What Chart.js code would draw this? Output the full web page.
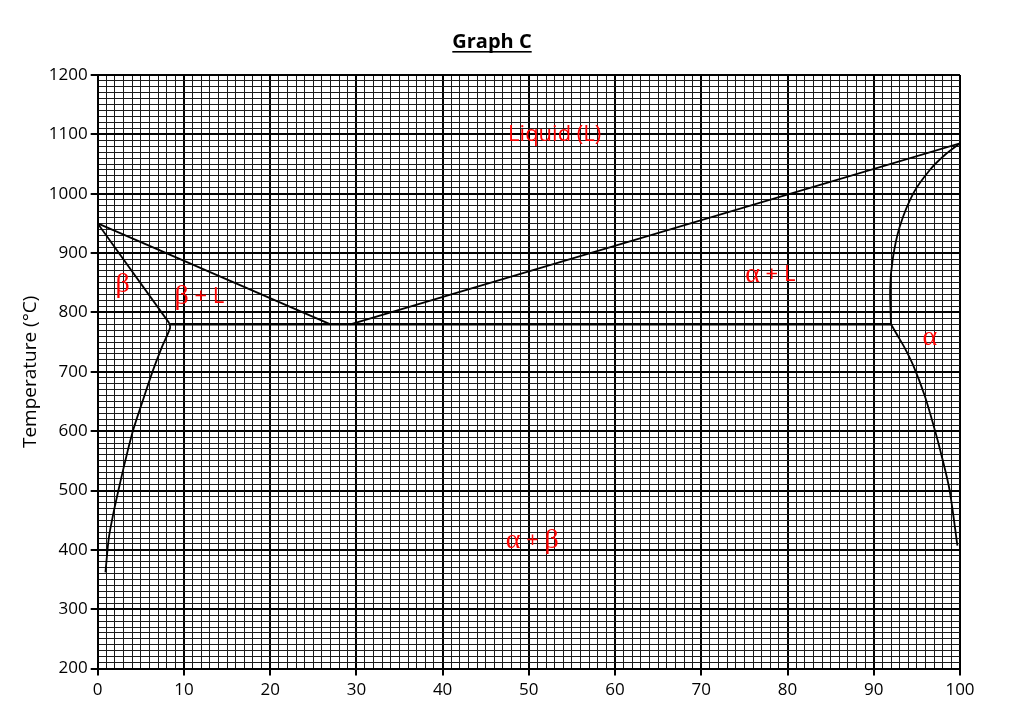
<!DOCTYPE html>
<html lang="en">
<head>
    <meta charset="UTF-8">
    <title>Graph C</title>
    <script src="https://cdn.jsdelivr.net/npm/chart.js"></script>
    <style>
        body {
            margin: 0;
            padding: 0;
            background-color: #fff;
        }
        .chart-box {
            width: 1024px;
            height: 718px;
        }
    </style>
</head>
<body>
    <div class="chart-box">
        <canvas id="phaseChart"></canvas>
    </div>

    <script>
        // Оси
        const xRange = [0, 100];
        const yRange = [200, 1200];

        // Линии диаграммы (состав, температура)
        const liquidusLeft = [[0, 950], [27, 780]];
        const liquidusRight = [[29.3, 780], [100, 1085]];
        const eutecticLine = [[8.4, 780], [92, 780]];
        const betaSolidus = [[0, 950], [8.3, 782]];
        const betaSolvus = [[8.3, 782], [8.4, 774], [7.4, 740], [6.4, 702], [5.2, 650], [4.1, 601], [3.2, 550], [2.4, 500], [1.8, 460], [1.3, 421], [0.9, 362]];
        const alphaSolidus = [[100, 1085], [98.3, 1066], [96.5, 1040], [94.6, 1001], [93.0, 944], [92.2, 890], [91.9, 840], [92.0, 780]];
        const alphaSolvus = [[92.0, 780], [92.6, 765], [93.6, 740], [94.6, 710], [95.9, 660], [97.1, 601], [98.0, 551], [98.8, 500], [99.7, 407]];

        // Подписи областей
        const regionNames = ['Liquid (L)', 'β', 'β + L', 'α + L', 'α', 'α + β'];
        const regionX = [53, 2.9, 11.8, 78, 96.5, 50.4];
        const regionY = [1100, 847, 826, 863, 758, 416];

        const toPoints = arr => arr.map(p => ({ x: p[0], y: p[1] }));

        function lineSet(arr, curved, width) {
            return {
                data: toPoints(arr),
                showLine: true,
                borderColor: '#000',
                borderWidth: width || 1.8,
                pointRadius: 0,
                tension: curved ? 0.3 : 0,
                fill: false
            };
        }

        // Заголовок с подчёркиванием
        const titlePlugin = {
            id: 'underlinedTitle',
            afterDraw(chart) {
                const ctx = chart.ctx;
                ctx.save();
                ctx.font = 'bold 20px "Open Sans", sans-serif';
                ctx.fillStyle = '#000';
                ctx.textAlign = 'center';
                ctx.textBaseline = 'alphabetic';
                const cx = 492;
                ctx.fillText('Graph C', cx, 48);
                const w = ctx.measureText('Graph C').width;
                ctx.fillRect(cx - w / 2, 51, w, 1.6);
                ctx.restore();
            }
        };

        // Красные подписи: греческие буквы шрифтом с засечками
        const labelPlugin = {
            id: 'regionLabels',
            afterDatasetsDraw(chart) {
                const ctx = chart.ctx;
                const xs = chart.scales.x, ys = chart.scales.y;
                ctx.save();
                ctx.fillStyle = '#ff0000';
                ctx.textBaseline = 'middle';
                ctx.textAlign = 'left';
                regionNames.forEach((name, i) => {
                    const runs = name.split(/([αβ])/).filter(s => s.length);
                    const fonts = runs.map(r => /[αβ]/.test(r) ? '28px "Liberation Serif", serif' : '22px "Open Sans", sans-serif');
                    let total = 0;
                    const widths = runs.map((r, k) => {
                        ctx.font = fonts[k];
                        const w = ctx.measureText(r).width;
                        total += w;
                        return w;
                    });
                    let px = xs.getPixelForValue(regionX[i]) - total / 2;
                    const py = ys.getPixelForValue(regionY[i]);
                    runs.forEach((r, k) => {
                        ctx.font = fonts[k];
                        ctx.fillText(r, px, py);
                        px += widths[k];
                    });
                });
                ctx.restore();
            }
        };

        const ctx = document.getElementById('phaseChart').getContext('2d');
        new Chart(ctx, {
            type: 'scatter',
            data: {
                datasets: [
                    lineSet(liquidusLeft, false),
                    lineSet(liquidusRight, false),
                    lineSet(eutecticLine, false, 2.4),
                    lineSet(betaSolidus, false),
                    lineSet(betaSolvus, true),
                    lineSet(alphaSolidus, true),
                    lineSet(alphaSolvus, true)
                ]
            },
            options: {
                responsive: true,
                maintainAspectRatio: false,
                animation: false,
                layout: { padding: { top: 75, right: 64, bottom: 14, left: 15 } },
                plugins: {
                    legend: { display: false },
                    tooltip: { enabled: false }
                },
                scales: {
                    x: {
                        type: 'linear',
                        min: xRange[0],
                        max: xRange[1],
                        border: { color: '#000', width: 2 },
                        grid: {
                            color: c => c.tick.value % 10 === 0 ? '#000' : '#1a1a1a',
                            lineWidth: c => c.tick.value % 10 === 0 ? 2 : 1,
                            tickColor: c => c.tick.value % 10 === 0 ? '#000' : 'rgba(0,0,0,0)',
                            tickLength: 7
                        },
                        ticks: {
                            stepSize: 1,
                            autoSkip: false,
                            maxRotation: 0,
                            color: '#000',
                            padding: 4,
                            font: { size: 17, family: '"Open Sans", sans-serif' },
                            callback: v => v % 10 === 0 ? v : ''
                        }
                    },
                    y: {
                        type: 'linear',
                        min: yRange[0],
                        max: yRange[1],
                        border: { color: '#000', width: 2 },
                        title: {
                            display: true,
                            text: 'Temperature (°C)',
                            color: '#000',
                            font: { size: 19, family: '"Open Sans", sans-serif' },
                            padding: { bottom: 4 }
                        },
                        grid: {
                            color: c => c.tick.value % 100 === 0 ? '#000' : '#1a1a1a',
                            lineWidth: c => c.tick.value % 100 === 0 ? 2 : 1,
                            tickColor: c => c.tick.value % 100 === 0 ? '#000' : 'rgba(0,0,0,0)',
                            tickLength: 7
                        },
                        ticks: {
                            stepSize: 10,
                            autoSkip: false,
                            color: '#000',
                            font: { size: 17, family: '"Open Sans", sans-serif' },
                            callback: v => v % 100 === 0 ? v : ''
                        }
                    }
                }
            },
            plugins: [titlePlugin, labelPlugin]
        });
    </script>
</body>
</html>
